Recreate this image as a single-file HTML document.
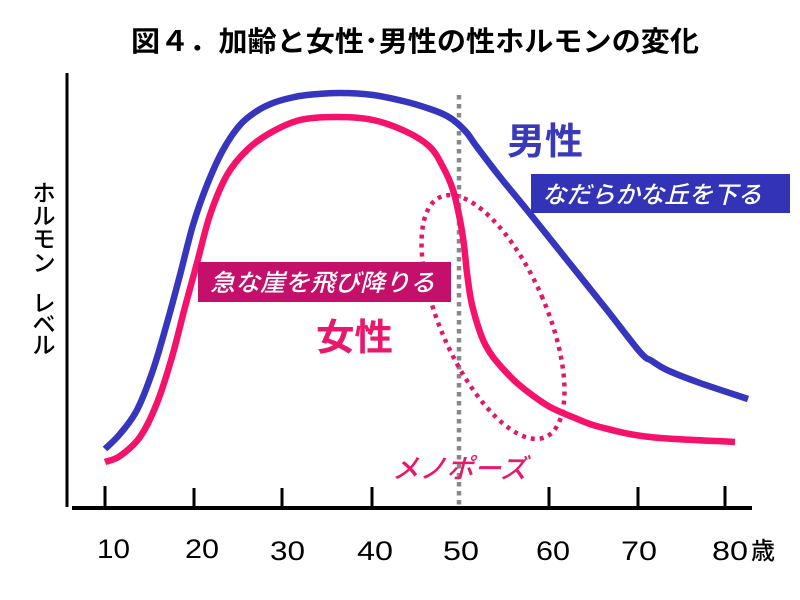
<!DOCTYPE html>
<html>
<head>
<meta charset="utf-8">
<style>
html,body{margin:0;padding:0;background:#fff;}
svg{display:block;}
text{font-family:"Liberation Sans","Noto Sans CJK JP",sans-serif;}
.cjk{font-family:"Noto Sans CJK JP","Liberation Sans",sans-serif;}
</style>
</head>
<body>
<svg id="chart" width="800" height="600" viewBox="0 0 800 600" xmlns="http://www.w3.org/2000/svg">
<rect width="800" height="600" fill="#fff"/>

<!-- Title -->
<text class="cjk" x="131" y="51" font-size="28" font-weight="bold" fill="#000" textLength="568" lengthAdjust="spacingAndGlyphs">図４．加齢と女性･男性の性ホルモンの変化</text>

<!-- Axes -->
<line x1="67" y1="73" x2="67" y2="507" stroke="#000" stroke-width="3"/>
<line x1="72" y1="508" x2="752" y2="508" stroke="#000" stroke-width="4"/>
<g stroke="#000" stroke-width="3">
<line x1="105" y1="486" x2="105" y2="508"/>
<line x1="194" y1="488" x2="194" y2="508"/>
<line x1="282" y1="488" x2="282" y2="508"/>
<line x1="372" y1="487" x2="372" y2="508"/>
<line x1="549" y1="487" x2="549" y2="508"/>
<line x1="638" y1="487" x2="638" y2="508"/>
<line x1="725" y1="486" x2="725" y2="508"/>
</g>

<!-- Y axis label -->
<g class="cjk" font-size="23" font-weight="500" fill="#000" text-anchor="middle">
<text x="44" y="201">ホ</text>
<text x="44" y="224">ル</text>
<text x="44" y="247">モ</text>
<text x="44" y="271">ン</text>
<text x="44" y="311">レ</text>
<text x="44" y="332">ベ</text>
<text x="44" y="353">ル</text>
</g>

<!-- X tick labels -->
<g class="cjk" font-size="27" font-weight="500" fill="#000">
<text x="97" y="558" textLength="33" lengthAdjust="spacingAndGlyphs">10</text>
<text x="185" y="558" textLength="34" lengthAdjust="spacingAndGlyphs">20</text>
<text x="270" y="560" textLength="35" lengthAdjust="spacingAndGlyphs">30</text>
<text x="357" y="560" textLength="36" lengthAdjust="spacingAndGlyphs">40</text>
<text x="443" y="560" textLength="36" lengthAdjust="spacingAndGlyphs">50</text>
<text x="536" y="560" textLength="34" lengthAdjust="spacingAndGlyphs">60</text>
<text x="621" y="560" textLength="36" lengthAdjust="spacingAndGlyphs">70</text>
<text x="712" y="560" textLength="36" lengthAdjust="spacingAndGlyphs">80</text>
<text x="751" y="559" font-size="24">歳</text>
</g>

<!-- Menopause dotted vertical line -->
<line x1="459" y1="95" x2="459" y2="508" stroke="#888" stroke-width="4.5" stroke-dasharray="4.5 4.5"/>

<!-- Dotted ellipse -->
<ellipse cx="493" cy="317" rx="53" ry="131" transform="rotate(-23.6 493 317)" fill="none" stroke="#e0186c" stroke-width="4.5" stroke-dasharray="4 5"/>

<!-- Male curve -->
<polyline class="smooth" fill="none" stroke="#3535bd" stroke-width="6.5" stroke-linejoin="round" points="105,449 120,434 137,410 153,370 167,323 180,275 193,225 207,185 223,150 240,125 257,111 273,103 290,98 307,95 340,93 373,95 407,102 433,110 447,116 457,123 467,133 477,147 500,177 527,210 567,260 607,310 640,352 652,361 667,370 700,383 748,399"/>

<!-- Female curve -->
<polyline class="smooth" fill="none" stroke="#f5126a" stroke-width="6.5" stroke-linejoin="round" points="105,462 120,456 140,437 157,403 172,357 185,307 197,263 210,215 227,175 247,150 270,133 300,120 337,117 373,120 407,132 430,147 443,167 453,190 460,220 464,245 467,273 471,300 477,323 484,342 493,357 505,371 517,383 532,395 550,407 575,418 600,427 650,437 735,442"/>

<!-- Male label -->
<text class="cjk" x="507" y="154" font-size="37" font-weight="bold" fill="#3a3ab8" textLength="76" lengthAdjust="spacingAndGlyphs">男性</text>

<!-- Blue box -->
<rect x="531" y="174" width="259" height="39" fill="#3333b8"/>
<text class="cjk" x="542" y="203" font-size="24" font-weight="500" font-style="italic" fill="#fff" textLength="220" lengthAdjust="spacingAndGlyphs">なだらかな丘を下る</text>

<!-- Pink box -->
<rect x="198" y="262" width="253" height="40" fill="#c4106a"/>
<text class="cjk" x="210" y="291" font-size="24" font-weight="500" font-style="italic" fill="#fff" textLength="225" lengthAdjust="spacingAndGlyphs">急な崖を飛び降りる</text>

<!-- Female label -->
<text class="cjk" x="316" y="350" font-size="37" font-weight="bold" fill="#e8186c" textLength="77" lengthAdjust="spacingAndGlyphs">女性</text>

<!-- Menopause label -->
<text class="cjk" x="392" y="478" font-size="27" font-weight="500" font-style="italic" fill="#e8186c" textLength="135" lengthAdjust="spacingAndGlyphs">メノポーズ</text>
</svg>
<script>
(function(){
  var NS="http://www.w3.org/2000/svg";
  var pls=document.querySelectorAll("polyline.smooth");
  for(var k=0;k<pls.length;k++){
    var pl=pls[k];
    var raw=pl.getAttribute("points").trim().split(/\s+/).map(function(s){var a=s.split(",");return [parseFloat(a[0]),parseFloat(a[1])];});
    var d="M"+raw[0][0]+","+raw[0][1];
    for(var i=0;i<raw.length-1;i++){
      var p0=raw[i>0?i-1:0],p1=raw[i],p2=raw[i+1],p3=raw[i+2<raw.length?i+2:raw.length-1];
      var c1x=p1[0]+(p2[0]-p0[0])/6,c1y=p1[1]+(p2[1]-p0[1])/6;
      var c2x=p2[0]-(p3[0]-p1[0])/6,c2y=p2[1]-(p3[1]-p1[1])/6;
      d+=" C"+c1x.toFixed(2)+","+c1y.toFixed(2)+" "+c2x.toFixed(2)+","+c2y.toFixed(2)+" "+p2[0]+","+p2[1];
    }
    var path=document.createElementNS(NS,"path");
    path.setAttribute("d",d);
    path.setAttribute("fill","none");
    path.setAttribute("stroke",pl.getAttribute("stroke"));
    path.setAttribute("stroke-width",pl.getAttribute("stroke-width"));
    path.setAttribute("stroke-linejoin","round");
    pl.parentNode.replaceChild(path,pl);
  }
})();
</script>
</body>
</html>
